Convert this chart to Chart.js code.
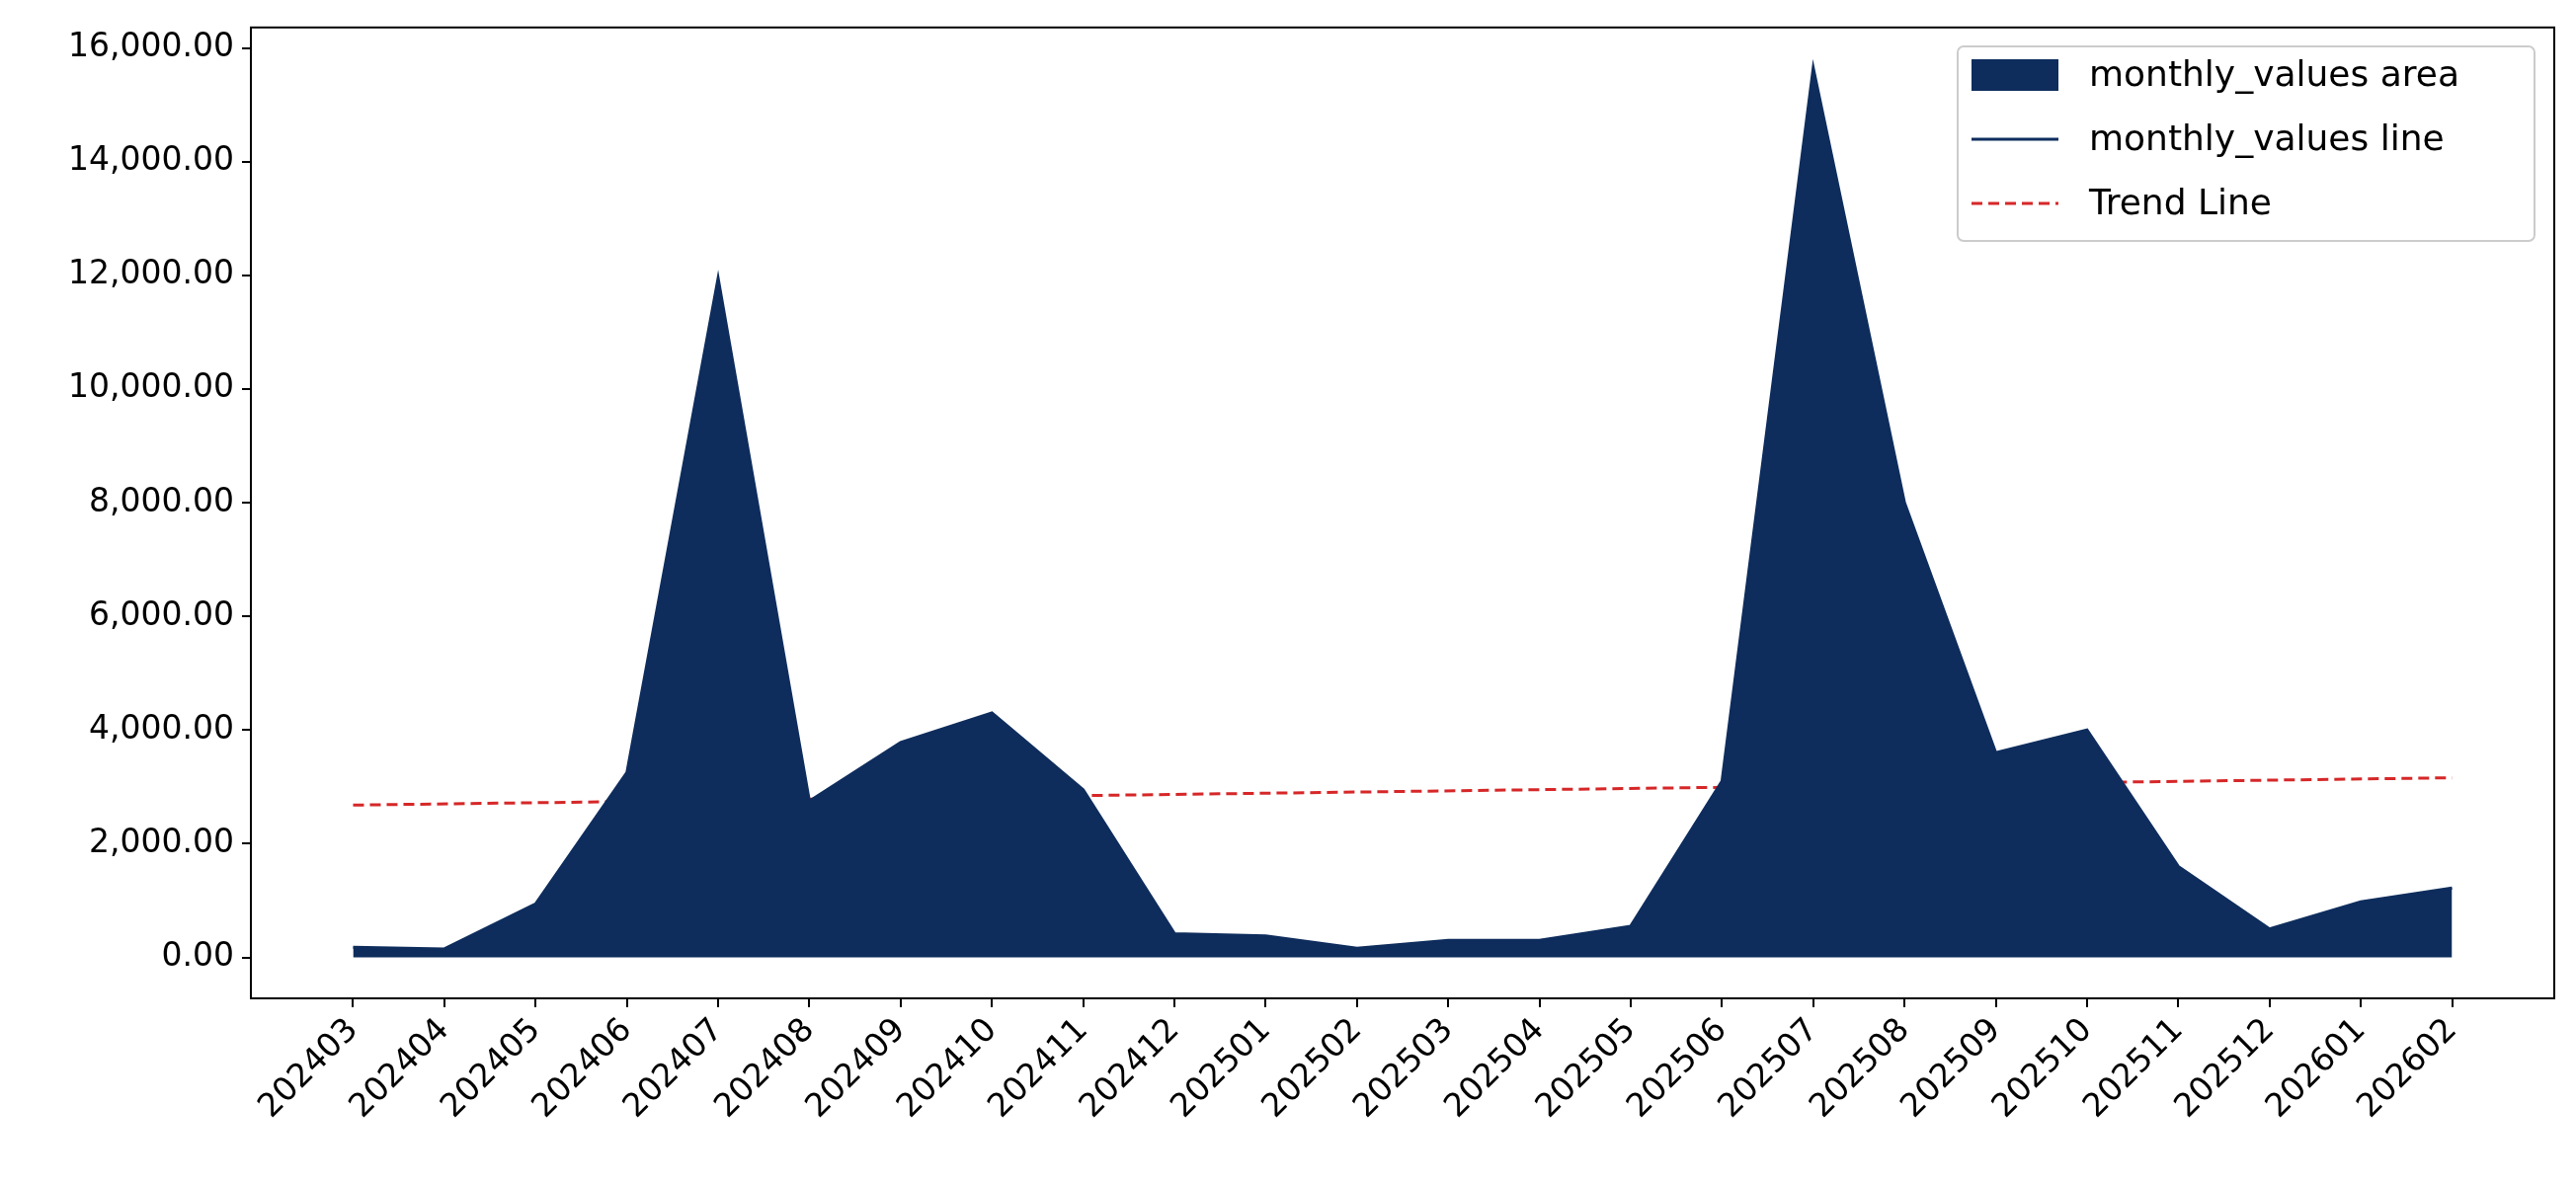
<!DOCTYPE html>
<html><head><meta charset="utf-8">
<script src="https://cdn.jsdelivr.net/npm/chart.js@4/dist/chart.umd.min.js"></script>
<style>html,body{margin:0;padding:0;background:#fff}#w{width:2608px;height:1199px}</style>
</head><body><div id="w"><canvas id="c"></canvas></div>
<script>
const categories=["202403","202404","202405","202406","202407","202408","202409","202410","202411","202412","202501","202502","202503","202504","202505","202506","202507","202508","202509","202510","202511","202512","202601","202602"];
const monthlyValues=[180,150,940,3250,11950,2750,3780,4300,2950,420,380,160,300,300,550,3100,15650,8000,3600,4000,1600,500,980,1220];
const trendStart=2680, trendEnd=3160;
const trendValues=[trendStart,trendEnd];
const navy='#0e2d5d', red='#d62728';
const pts=monthlyValues.map((v,i)=>({x:i,y:v}));
const trendPts=[{x:0,y:trendValues[0]},{x:categories.length-1,y:trendValues[1]}];
const FONT='DejaVu Sans';
const frame={id:'frame',afterDraw(ch){
 const c=ch.ctx,a=ch.chartArea;
 c.save();c.strokeStyle='#000';c.lineWidth=2;c.strokeRect(a.left,a.top,a.right-a.left,a.bottom-a.top);
 // legend
 const lx=1982,ly=47,lw=584,lh=197;
 c.fillStyle='rgba(255,255,255,0.85)';c.strokeStyle='#ccc';c.lineWidth=2;
 c.beginPath();c.roundRect(lx,ly,lw,lh,6);c.fill();c.stroke();
 c.font='36px '+FONT;c.textBaseline='middle';c.fillStyle='#000';
 const rows=[76,141,206];
 c.fillStyle=navy;c.fillRect(1996,rows[0]-16,88,32);
 c.strokeStyle=navy;c.lineWidth=3;c.beginPath();c.moveTo(1996,rows[1]);c.lineTo(2084,rows[1]);c.stroke();
 c.strokeStyle=red;c.setLineDash([11,6]);c.beginPath();c.moveTo(1996,rows[2]);c.lineTo(2084,rows[2]);c.stroke();c.setLineDash([]);
 c.fillStyle='#000';
 ['monthly_values area','monthly_values line','Trend Line'].forEach((t,i)=>c.fillText(t,2115,rows[i]+2));
 c.restore();}};
new Chart(document.getElementById('c'),{type:'line',
 data:{datasets:[
  {data:pts,borderColor:navy,backgroundColor:navy,fill:'origin',borderWidth:3,pointRadius:0,tension:0},
  {data:trendPts,borderColor:red,borderDash:[11,6],borderWidth:3,pointRadius:0,fill:false}]},
 options:{responsive:true,maintainAspectRatio:false,animation:false,devicePixelRatio:1,
  layout:{padding:{top:20,right:22,left:0,bottom:0}},
  plugins:{legend:{display:false},tooltip:{enabled:false}},
  scales:{
   x:{type:'linear',min:-1.12,max:categories.length-1+1.12,
     afterFit(s){s.height=188;},
     afterBuildTicks(s){s.ticks=categories.map((_,i)=>({value:i}));},
     ticks:{autoSkip:false,maxRotation:45,minRotation:45,color:'#000',font:{family:FONT,size:33},padding:4,
       callback:(v)=>categories[v]},
     grid:{drawOnChartArea:false,drawTicks:true,tickLength:9,color:'#000',lineWidth:2},border:{color:'#000',width:2}},
   y:{min:-720,max:16360,afterFit(s){s.width=254;},
     afterBuildTicks(s){s.ticks=[0,2000,4000,6000,8000,10000,12000,14000,16000].map(v=>({value:v}));},
     ticks:{color:'#000',font:{family:FONT,size:33},padding:8,
       callback:v=>v.toLocaleString('en-US',{minimumFractionDigits:2,maximumFractionDigits:2})},
     grid:{drawOnChartArea:false,drawTicks:true,tickLength:9,color:'#000',lineWidth:2},border:{color:'#000',width:2}}}},
 plugins:[frame]});
</script></body></html>
